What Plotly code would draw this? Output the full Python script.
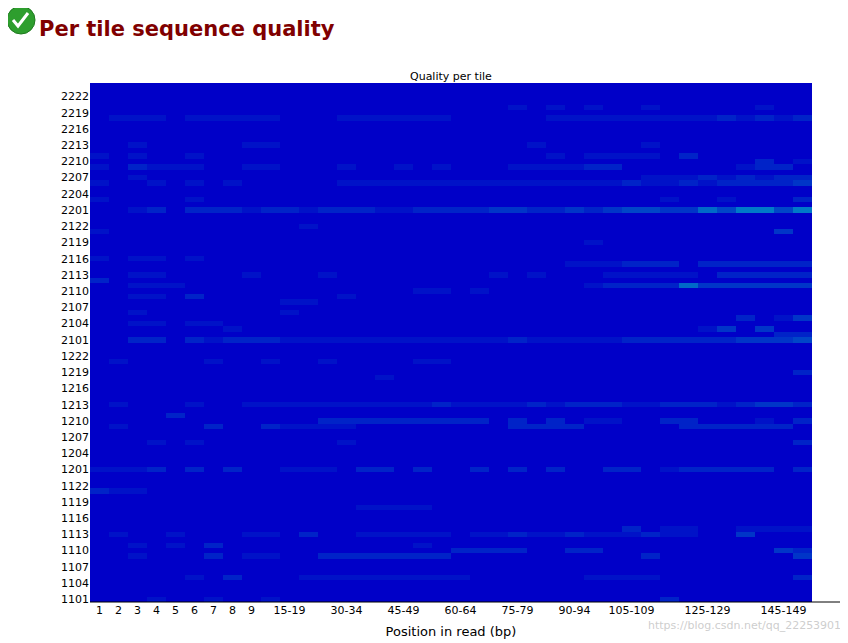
import plotly.graph_objects as go

swaths = ["11", "12", "21", "22"]
tiles = [f"{s}{t:02d}" for s in swaths for t in range(1, 25)]
positions = [str(i) for i in range(1, 10)] + [f"{a}-{a+4}" for a in range(10, 150, 5)] + ["150-151"]

# deviation levels (0 = baseline) per notable tile, one digit per position group
notable = {
    "2220": "0000000000 0000000000 0010101001 00000100",
    "2218": "0111011111 0001111110 0000111111 11121212",
    "2213": "0010000011 0000000000 0001000001 00000000",
    "2211": "1010010000 0000000000 0000101111 02000000",
    "2210": "0000000000 0000000000 0000000000 00000201",
    "2209": "1021110011 0001001010 0011112200 00001220",
    "2207": "0010000000 0000000000 0000000001 11212122",
    "2206": "1001010100 0001111111 1111111121 12122223",
    "2203": "1000010000 0000000000 0000000000 10010002",
    "2201": "0012022212 2122211222 2332232344 33647747",
    "2122": "0000000000 0100000000 0000000000 00000000",
    "2121": "1000000000 0000000000 0000000000 00000030",
    "2119": "0000000000 0000000000 0000001000 00000000",
    "2116": "1011010000 0000000000 0000000000 00000000",
    "2115": "0000000000 0000000000 0000011122 20222222",
    "2113": "0011000010 0010000000 0101000111 11022222",
    "2112": "2000000000 0000000000 0000000000 00000000",
    "2111": "0011100000 0000000000 0000001222 26333333",
    "2110": "0000000000 0000000110 1000000000 00000000",
    "2109": "0011020000 0001000000 0000000000 00000000",
    "2108": "0000000000 1100000000 0000000000 00000000",
    "2106": "0010000000 1000000000 0000000000 00000000",
    "2105": "0000000000 0000000000 0000000000 00002013",
    "2104": "0011011000 0000000000 0000000000 00000000",
    "2103": "0000000100 0000000000 0000000000 00130300",
    "2102": "0000000000 0000000000 0000000000 00000022",
    "2101": "0022021222 1111111111 1121111122 22223334",
    "1221": "0100001001 0010000110 0000000000 00000000",
    "1219": "0000000000 0000000000 0000000000 00000002",
    "1218": "0000000000 0000010000 0000000000 00000000",
    "1213": "0100010011 1111111121 1112122211 22212332",
    "1211": "0000200000 0000000000 0000000000 00000000",
    "1210": "0000000000 0022222222 2020201100 22000102",
    "1209": "0100002002 1111000000 0022220000 02222220",
    "1206": "0001010000 0001000000 0000000000 00000002",
    "1201": "1112020200 1110220200 2020200220 12222202",
    "1121": "2110000000 0000000000 0000000000 00000000",
    "1118": "0000000000 0000111100 0000000000 00000000",
    "1114": "0000000000 0000000000 0000000020 11001111",
    "1113": "0100100011 0200111110 1121121112 11003000",
    "1111": "0010102000 0000000100 0000000000 00000000",
    "1110": "0000000000 0000000002 2220022000 00000032",
    "1109": "0010002011 0022222220 0000000002 00000003",
    "1105": "0000010200 0111111111 0000001111 00000002",
    "1101": "0001001001 0000000000 0000000000 20000000",
}

z = []
for t in tiles:
    s = notable.get(t, "0" * 38).replace(" ", "")
    s = (s + "0" * 38)[:38]
    z.append([int(c) for c in s])

xi = list(range(len(positions)))
yi = list(range(len(tiles)))

fig = go.Figure(go.Heatmap(
    z=z, x=xi, y=yi, zmin=0, zmax=10,
    colorscale=[[0, "rgb(0,0,200)"], [1, "rgb(0,175,200)"]],
    showscale=False, hoverinfo="skip"))

W, H = 722, 519
def px(x):  # page pixel -> paper x
    return (x - 90) / W
def py(y):  # page pixel -> paper y
    return 1 - (y - 83) / H

xt = list(range(9)) + [10, 13, 16, 19, 22, 25, 28, 32, 36]
yt = yi[::3]
font = "DejaVu Sans"
check = "M {} {} L {} {} L {} {}".format(px(13), py(20), px(18), py(26), px(28), py(13))
fig.update_layout(
    width=848, height=643, plot_bgcolor="white", paper_bgcolor="white",
    margin=dict(l=82, r=44, t=75, b=49),
    font=dict(family=font, size=11, color="black"),
    xaxis=dict(tickvals=xt, ticktext=[positions[i] for i in xt], ticks="", showgrid=False,
               zeroline=False, range=[-0.5, 37.5], title=dict(text="Position in read (bp)", standoff=10)),
    yaxis=dict(tickvals=yt, ticktext=[tiles[i] for i in yt], ticks="", showgrid=False,
               zeroline=False, range=[-0.5, 95.5]),
    shapes=[dict(type="line", xref="paper", yref="paper", x0=0, x1=px(843), y0=0, y1=0,
                 line=dict(color="black", width=1)),
            dict(type="circle", xref="paper", yref="paper",
                 x0=px(7), x1=px(35), y0=py(34), y1=py(6),
                 fillcolor="#2e9e2e", line=dict(color="#1f7a1f", width=1)),
            dict(type="path", xref="paper", yref="paper", path=check,
                 line=dict(color="white", width=3))],
    annotations=[
        dict(text="<b>Per tile sequence quality</b>", xref="paper", yref="paper",
             x=px(37), y=py(29), xanchor="left", yanchor="middle", showarrow=False,
             font=dict(size=21, color="#800000", family=font)),
        dict(text="Quality per tile", xref="paper", yref="paper", x=0.5, y=py(68),
             showarrow=False, font=dict(size=11)),
        dict(text="https://blog.csdn.net/qq_22253901", xref="paper", yref="paper",
             x=px(843), y=py(634), xanchor="right", showarrow=False,
             font=dict(size=11, color="rgba(200,200,200,0.9)")),
    ])
fig.write_html("out.html")
